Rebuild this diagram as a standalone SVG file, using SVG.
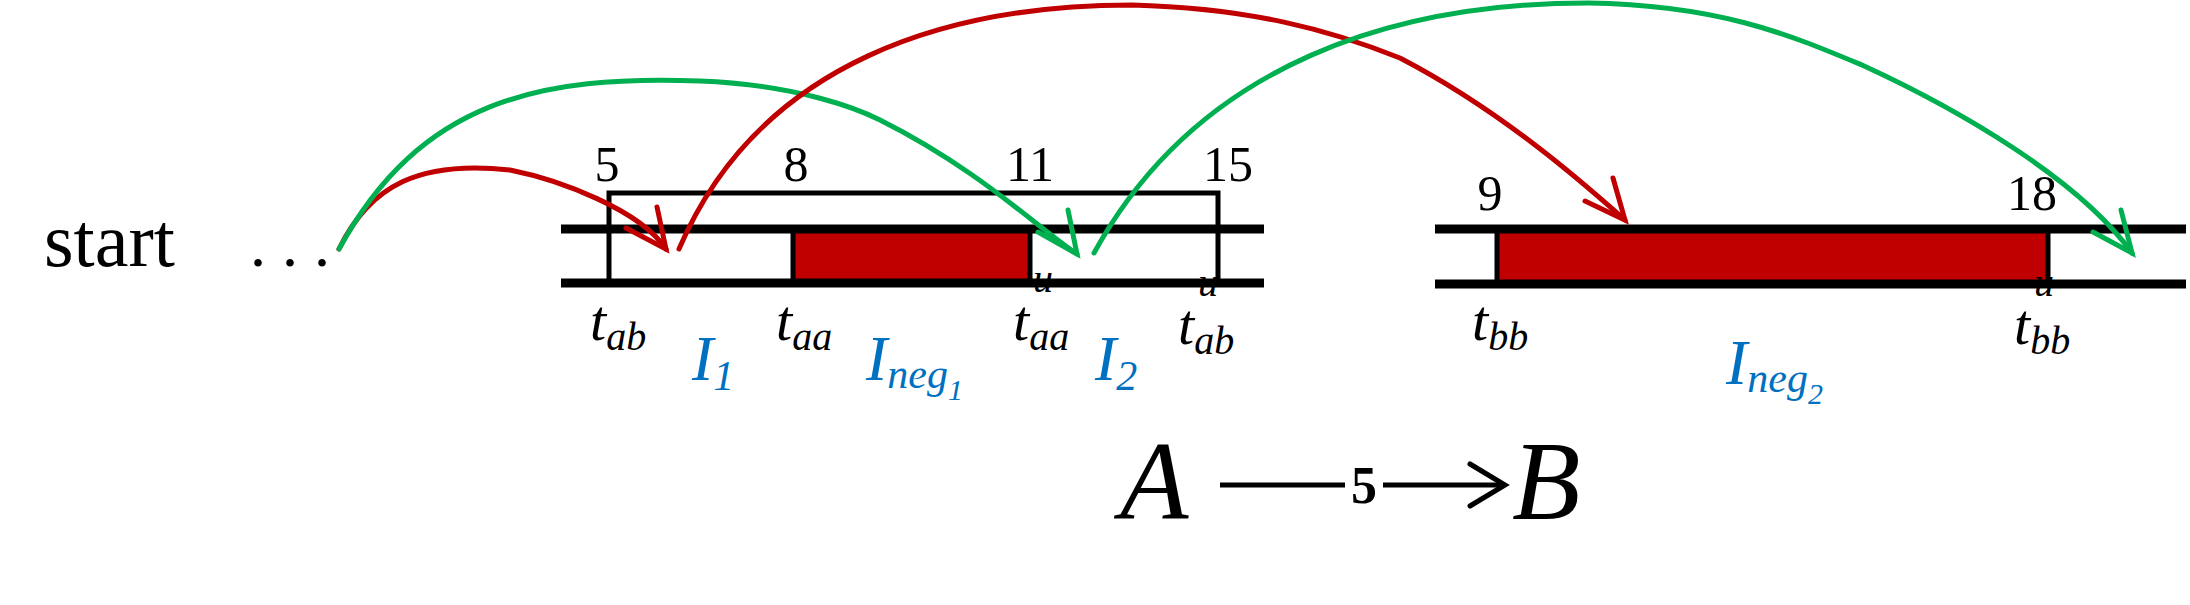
<svg xmlns="http://www.w3.org/2000/svg" width="2190" height="605" viewBox="0 0 2190 605">
<style>
.t{font-family:"Liberation Serif",serif;fill:#000}
.i{font-family:"Liberation Serif",serif;font-style:italic}
.b{fill:#0070C0}
.h{stroke:#000;stroke-width:9;fill:none}
.v{stroke:#000;stroke-width:5;fill:none}
.r{stroke:#C00000;stroke-width:5;fill:none;stroke-linecap:round}
.g{stroke:#00B050;stroke-width:5;fill:none;stroke-linecap:round}
</style>
<rect width="2190" height="605" fill="#fff"/>
<g id="start"><text class="t" x="44" y="266" font-size="76">start</text>
<text class="t" x="250" y="266" font-size="64">. . .</text></g>
<g id="timeline1">
<rect x="793" y="229" width="237" height="53" fill="#C00000"/>
<line class="h" x1="561" y1="229" x2="1264" y2="229"/>
<line class="h" x1="561" y1="283" x2="1264" y2="283"/>
<polyline class="v" points="609,283 609,193 1218,193 1218,283"/>
<line class="v" x1="793" y1="229" x2="793" y2="283"/>
<line class="v" x1="1030" y1="229" x2="1030" y2="283"/>
<text class="t" x="607" y="181" font-size="50" text-anchor="middle">5</text>
<text class="t" x="796" y="181" font-size="50" text-anchor="middle">8</text>
<text class="t" x="1030" y="181" font-size="50" text-anchor="middle">11</text>
<text class="t" x="1228" y="181" font-size="50" text-anchor="middle">15</text>
<text class="i" x="590" y="340" font-size="58">t<tspan font-size="40" dy="10">ab</tspan></text>
<text class="i" x="776" y="340" font-size="58">t<tspan font-size="40" dy="10">aa</tspan></text>
<text class="i" x="1013" y="340" font-size="58">t<tspan font-size="40" dy="10">aa</tspan><tspan font-size="40" x="1033" dy="-58">u</tspan></text>
<text class="i" x="1178" y="344" font-size="58">t<tspan font-size="40" dy="10">ab</tspan><tspan font-size="40" x="1198" dy="-58">u</tspan></text>
<text class="i b" x="692" y="380" font-size="64">I<tspan font-size="42" dy="10">1</tspan></text>
<text class="i b" x="866" y="380" font-size="64">I<tspan font-size="42" dy="8">neg</tspan><tspan font-size="30" dy="12">1</tspan></text>
<text class="i b" x="1095" y="380" font-size="64">I<tspan font-size="42" dy="10">2</tspan></text>
</g>
<g id="timeline2">
<rect x="1497" y="229" width="551" height="55" fill="#C00000"/>
<line class="h" x1="1435" y1="229" x2="2186" y2="229"/>
<line class="h" x1="1435" y1="284" x2="2186" y2="284"/>
<line class="v" x1="1497" y1="229" x2="1497" y2="284"/>
<line class="v" x1="2048" y1="229" x2="2048" y2="284"/>
<text class="t" x="1490" y="210" font-size="50" text-anchor="middle">9</text>
<text class="t" x="2032" y="210" font-size="50" text-anchor="middle">18</text>
<text class="i" x="1472" y="340" font-size="58">t<tspan font-size="40" dy="10">bb</tspan></text>
<text class="i" x="2014" y="344" font-size="58">t<tspan font-size="40" dy="10">bb</tspan><tspan font-size="40" x="2034" dy="-58">u</tspan></text>
<text class="i b" x="1726" y="384" font-size="64">I<tspan font-size="42" dy="8">neg</tspan><tspan font-size="30" dy="12">2</tspan></text>
</g>
<g id="formula">
<text class="i" x="1120" y="519" font-size="112">A</text>
<line x1="1220" y1="485" x2="1500" y2="485" stroke="#000" stroke-width="5"/>
<polyline points="1470,464 1505,485 1470,506" fill="none" stroke="#000" stroke-width="5" stroke-linecap="round"/>
<rect x="1345" y="465" width="38" height="40" fill="#fff"/>
<text class="t" x="1364" y="503" font-size="52" font-weight="bold" text-anchor="middle">5</text>
<text class="i" x="1512" y="519" font-size="112">B</text>
</g>
<g id="connectors">
<path class="r" d="M339,249 C370,185 420,160 510,170 C560,180 640,210 666,249"/>
<polyline class="r" points="657,207 666,249 626,228"/>
<path class="g" d="M339,249 C420,100 540,75 700,81 C800,85 860,110 880,120 C980,170 1040,230 1077,254"/>
<polyline class="g" points="1068,210 1077,254 1038,232"/>
<path class="r" d="M679,249 C760,60 950,5 1132,5 C1250,8 1330,30 1400,58 C1500,110 1580,180 1625,220"/>
<polyline class="r" points="1613,178 1625,220 1585,201"/>
<path class="g" d="M1094,253 C1200,60 1400,3 1588,3 C1720,5 1790,35 1862,65 C1960,110 2080,180 2132,253"/>
<polyline class="g" points="2121,210 2132,253 2093,232"/>
</g>
</svg>
